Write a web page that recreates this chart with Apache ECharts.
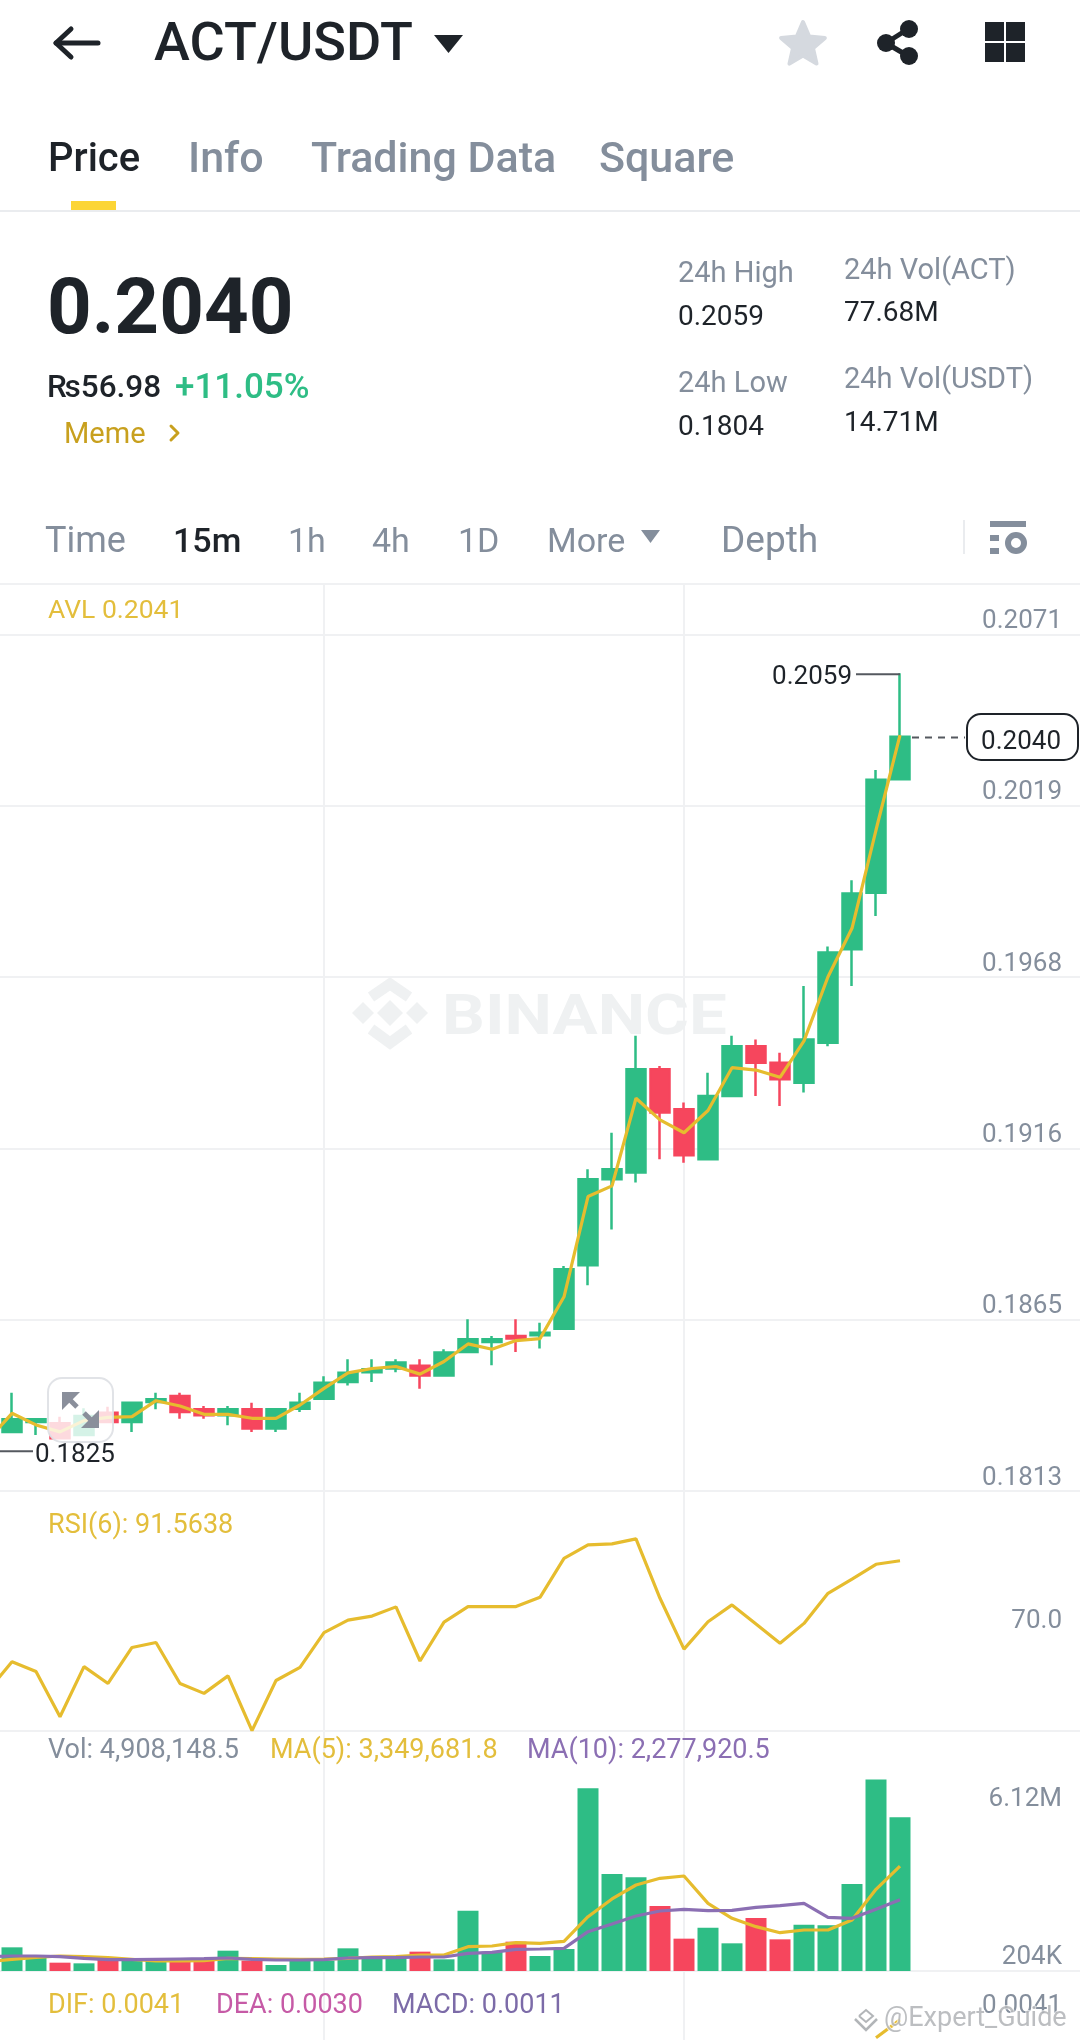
<!DOCTYPE html>
<html><head><meta charset="utf-8">
<style>html,body{margin:0;padding:0;background:#fff;overflow:hidden;width:1080px;height:2040px}#c{width:1104px;height:2040px;margin-left:-24px}</style>
<script src="https://cdn.jsdelivr.net/npm/echarts@6/dist/echarts.min.js"></script>
</head><body><div id="c"></div>
<script>
// ---------- data ----------
const categories = Array.from({length: 46}, (_, i) => i);
// [open, close, low, high]
const candles = [
[.18280,.18330,.18250,.18350],[.18308,.18346,.18308,.18426],[.18338,.18346,.18299,.18346],[.18334,.18289,.18289,.18354],
[.18299,.18356,.18299,.18379],[.18366,.18338,.18334,.18384],[.18338,.18396,.18308,.18396],[.18398,.18406,.18376,.18426],
[.18416,.18368,.18348,.18426],[.18376,.18358,.18348,.18386],[.18358,.18376,.18328,.18386],[.18376,.18318,.18308,.18396],
[.18318,.18376,.18308,.18376],[.18378,.18396,.18368,.18426],[.18408,.18456,.18408,.18476],[.18458,.18486,.18448,.18527],
[.18488,.18497,.18458,.18527],[.18499,.18517,.18488,.18527],[.18507,.18478,.18438,.18527],[.18478,.18547,.18478,.18557],
[.18549,.18587,.18549,.18647],[.18579,.18587,.18509,.18597],[.18597,.18589,.18549,.18647],[.18599,.18607,.18559,.18637],
[.18619,.18798,.18619,.18808],[.18810,.19069,.18750,.19099],[.19069,.19099,.18918,.19209],[.19089,.19400,.19059,.19501],
[.19400,.19270,.19129,.19410],[.19280,.19141,.19119,.19300],[.19129,.19320,.19129,.19390],[.19320,.19470,.19320,.19501],
[.19470,.19420,.19320,.19490],[.19420,.19370,.19290,.19450],[.19360,.19490,.19330,.19651],[.19480,.19752,.19470,.19770],
[.19762,.19930,.19651,.19970],[.19932,.20272,.19862,.20302],[.20274,.20402,.20274,.20593]];
const avlLine = [.18284,.18364,.18329,.18308,.18342,.18352,.18354,.18402,.18386,.18361,.18361,.18349,.18349,.18389,.18439,.18486,.18499,.18505,.18482,.18520,.18573,.18557,.18583,.18589,.18715,.19017,.19049,.19313,.19248,.19209,.19276,.19405,.19398,.19376,.19486,.19679,.19825,.20121,.20407];
const rsiValues = [52.2,61.0,58.0,44.3,59.5,54.4,65.3,66.8,54.4,51.4,56.7,40.1,55.3,59.3,69.8,73.6,74.8,77.6,61.2,73.0,77.7,77.7,77.7,80.5,92.3,96.4,96.7,98.2,80.2,64.8,73.1,78.2,72.4,66.6,72.6,81.7,86.0,90.5,91.56];
const volumes = [564000,756000,458000,266000,245000,351000,351000,330000,330000,330000,649000,330000,192000,330000,330000,724000,458000,426000,618000,373000,1927000,618000,937000,479000,703000,5835000,3098000,2992000,2076000,1033000,1384000,884000,1693000,1011000,1480000,1459000,2779000,6120000,4908148];
const volMa5 = [298000,373000,437000,479000,458000,426000,373000,319000,319000,330000,405000,394000,383000,373000,383000,405000,447000,458000,511000,511000,777000,799000,905000,884000,948000,1735000,2300000,2747000,2960000,3034000,2161000,1682000,1416000,1224000,1310000,1310000,1629000,2609000,3349682];
const volMa10 = [458000,479000,479000,458000,405000,362000,362000,373000,383000,394000,415000,373000,351000,351000,362000,415000,426000,426000,447000,447000,564000,596000,692000,703000,724000,1256000,1501000,1757000,1916000,1970000,1927000,1938000,2034000,2087000,2161000,1714000,1682000,1970000,2277921];
const difPoints = [[37,.0036],[38,.0041]];
const priceTicks = [.1813,.18646,.19162,.19678,.20194,.2071];
const rsiTicks = [70];
const volTicks = [204000,6120000];
const volTickLabels = ['{low|204K}','{high|6.12M}'];
const macdTicks = [.0041];
const verticalGridAt = [14,29];
const highPrice = .2059, lowPrice = .1825, lastPrice = .2040;

// ---------- style ----------
const DARK='#1E2329', GREY='#848E9C', GREEN='#2EBD85', RED='#F6465D', GOLD='#E3BE3C', LINEGOLD='#E6BC2E', PURPLE='#8B6FB3', GRID='#F0F1F3', MEME='#C8A01E';
const FONT='Roboto, "DejaVu Sans", sans-serif';
const panes=[{top:584,bottom:1491},{top:1491,bottom:1731},{top:1731,bottom:1971},{top:1971,bottom:2040}];

const vLines={silent:true,symbol:'none',z:1,animation:false,label:{show:false},lineStyle:{color:GRID,width:2,type:'solid'},data:verticalGridAt.map(i=>({xAxis:i}))};
const axisText={inside:true,margin:18,color:GREY,fontFamily:FONT,fontSize:26,verticalAlign:'bottom',lineHeight:24,padding:[0,0,1,0]};
const richText=lh=>({color:GREY,fontFamily:FONT,fontSize:26,lineHeight:lh});

const chart=echarts.init(document.getElementById('c'),null,{renderer:'canvas'});
chart.setOption({
  animation:false,backgroundColor:'#fff',
  grid:panes.map(p=>({left:0,right:0,top:p.top,height:p.bottom-p.top,containLabel:false})),
  xAxis:panes.map((p,i)=>({type:'category',gridIndex:i,data:categories,boundaryGap:true,
    axisTick:{show:false},axisLabel:{show:false},splitLine:{show:false},
    axisLine:{show:i<3,lineStyle:{color:GRID,width:2}}})),
  yAxis:[
    {gridIndex:0,position:'right',min:.1813,max:.20862,
     axisLine:{show:false},axisTick:{show:false,customValues:priceTicks},
     splitLine:{show:true,lineStyle:{color:GRID,width:2}},
     axisLabel:{...axisText,customValues:priceTicks,formatter:v=>v.toFixed(4)}},
    {gridIndex:1,position:'right',min:40,max:112.7,
     axisLine:{show:false},axisTick:{show:false,customValues:rsiTicks},splitLine:{show:false},
     axisLabel:{...axisText,lineHeight:18,customValues:rsiTicks,formatter:v=>v.toFixed(1)}},
    {gridIndex:2,position:'right',min:0,max:7665840,
     axisLine:{show:false},axisTick:{show:false,customValues:volTicks},splitLine:{show:false},
     axisLabel:{...axisText,padding:0,customValues:volTicks,verticalAlignMaxLabel:'top',
       rich:{low:richText(14),high:richText(40)},
       formatter:v=>volTickLabels[volTicks.indexOf(v)]}},
    {gridIndex:3,position:'right',min:.00354,max:.00546,
     axisLine:{show:false},axisTick:{show:false,customValues:macdTicks},splitLine:{show:false},
     axisLabel:{...axisText,customValues:macdTicks,formatter:v=>v.toFixed(4)}}
  ],
  series:[
    {type:'candlestick',xAxisIndex:0,yAxisIndex:0,data:candles,barWidth:19,z:3,
     itemStyle:{color:GREEN,color0:RED,borderColor:GREEN,borderColor0:RED,borderWidth:2.5},markLine:vLines},
    {type:'line',xAxisIndex:0,yAxisIndex:0,data:avlLine,showSymbol:false,z:4,lineStyle:{color:LINEGOLD,width:3.2}},
    {type:'line',xAxisIndex:1,yAxisIndex:1,data:rsiValues,showSymbol:false,z:4,lineStyle:{color:LINEGOLD,width:3.2},markLine:vLines},
    {type:'bar',xAxisIndex:2,yAxisIndex:2,barWidth:21,z:3,markLine:vLines,
     data:volumes.map((v,i)=>({value:v,itemStyle:{color:candles[i][1]>=candles[i][0]?GREEN:RED}}))},
    {type:'line',xAxisIndex:2,yAxisIndex:2,data:volMa5,showSymbol:false,z:4,lineStyle:{color:LINEGOLD,width:3.2}},
    {type:'line',xAxisIndex:2,yAxisIndex:2,data:volMa10,showSymbol:false,z:5,lineStyle:{color:PURPLE,width:3.2}},
    {type:'line',xAxisIndex:3,yAxisIndex:3,data:difPoints,showSymbol:false,z:4,lineStyle:{color:LINEGOLD,width:3.2},markLine:vLines}
  ]
});

// ---------- app chrome and annotations ----------
const G=[];
const T=(text,x,y,size,fill,weight,align)=>G.push({type:'text',z:50,silent:true,style:{text,x,y:y+3,fill,font:`${weight||400} ${size}px ${FONT}`,align:align||'left',verticalAlign:'middle'}});
const L=(x1,y1,x2,y2,stroke,w,extra)=>G.push({type:'line',z:50,silent:true,shape:{x1,y1,x2,y2},style:Object.assign({stroke,lineWidth:w},extra||{})});
const PL=(points,stroke,w,z)=>G.push({type:'polyline',z:z||50,silent:true,shape:{points},style:{stroke,lineWidth:w,fill:'none',lineCap:'round',lineJoin:'round'}});
const PG=(points,fill,z)=>G.push({type:'polygon',z:z||50,silent:true,shape:{points},style:{fill}});
const R=(x,y,width,height,fill,r,stroke,lw,z)=>G.push({type:'rect',z:z||50,silent:true,shape:{x,y,width,height,r:r||0},style:{fill,stroke:stroke||null,lineWidth:lw||0}});
const C=(cx,cy,r,fill,stroke,lw)=>G.push({type:'circle',z:50,silent:true,shape:{cx,cy,r},style:{fill,stroke:stroke||null,lineWidth:lw||0}});

// header
PL([[71,29],[56,43],[71,57]],DARK,5); L(56,43,98,43,DARK,5,{lineCap:'round'});
T('ACT/USDT',154,43,54,DARK,500);
PG([[434,35],[463,35],[448.5,53]],DARK);
const star=[];for(let i=0;i<10;i++){const a=-Math.PI/2+i*Math.PI/5,r=i%2?10.5:23;star.push([803+r*Math.cos(a),45+r*Math.sin(a)]);}
G.push({type:'polygon',z:50,silent:true,shape:{points:star},style:{fill:'#D5D9DF',stroke:'#D5D9DF',lineWidth:4,lineJoin:'round'}});
L(908,29,886,43,DARK,5);L(886,43,908,56,DARK,5);C(909,29,9,DARK);C(886,43,9,DARK);C(909,56,9,DARK);
[[985,22],[1006,22],[985,43],[1006,43]].forEach(p=>R(p[0],p[1],19,19,DARK));
// tabs
T('Price',48,158,40,DARK,500);T('Info',188,158,43,GREY,500);T('Trading Data',311,158,43,GREY,500);T('Square',599,158,43,GREY,500);
R(71,201,45,9,'#FCD535');L(0,211,1080,211,'#EAECEF',2);
// price block
T('0.2040',47,310,78,DARK,700);
T('₨56.98',47,386,31.5,DARK,500);T('+11.05%',175,386,35,GREEN,500);
T('Meme',64,433,29,MEME);PL([[171,426],[178,433],[171,440]],MEME,3);
T('24h High',678,272,29,GREY);T('0.2059',678,315,28,DARK);
T('24h Low',678,382,29,GREY);T('0.1804',678,425,28,DARK);
T('24h Vol(ACT)',844,269,29,GREY);T('77.68M',844,311,28,DARK);
T('24h Vol(USDT)',844,378,29,GREY);T('14.71M',844,421,28,DARK);
// interval row
T('Time',45,540,36,GREY);T('15m',173,540,34,DARK,500);T('1h',288,540,34,GREY);T('4h',372,540,34,GREY);T('1D',458,540,34,GREY);T('More',547,540,34,GREY);
PG([[641,530],[660,530],[650.5,543]],GREY);T('Depth',721,540,37,GREY);
L(964,520,964,554,'#EAECEF',2);
R(990,521,36,6,GREY);R(990,535,9,6,GREY);R(990,548,9,6,GREY);C(1016,543,8,'#fff',GREY,6);
L(0,584,1080,584,GRID,2);
// indicator legends
T('AVL 0.2041',48,608,26.5,GOLD);
T('RSI(6): 91.5638',48,1523,27,GOLD);
T('Vol: 4,908,148.5',48,1748,27,GREY);T('MA(5): 3,349,681.8',270,1748,27,GOLD);T('MA(10): 2,277,920.5',527,1748,27,PURPLE);
T('DIF: 0.0041',48,2003,27,GOLD);T('DEA: 0.0030',216,2003,27,'#C65AA6');T('MACD: 0.0011',392,2003,27,'#7C6BA8');
// BINANCE watermark
const WM='#EFF1F2';
PG([[390,1000],[403,1013],[390,1026],[377,1013]],WM,1);PG([[363,1002],[374,1013],[363,1024],[352,1013]],WM,1);PG([[417,1002],[428,1013],[417,1024],[406,1013]],WM,1);
G.push({type:'polyline',z:1,silent:true,shape:{points:[[371,997],[390,984],[409,997]]},style:{stroke:WM,lineWidth:11,fill:'none'}});
G.push({type:'polyline',z:1,silent:true,shape:{points:[[371,1029],[390,1043],[409,1029]]},style:{stroke:WM,lineWidth:11,fill:'none'}});
G.push({type:'text',z:1,silent:true,x:442,y:1020,scaleX:1.2,style:{text:'BINANCE',x:0,y:0,fill:WM,font:`700 56px ${FONT}`,align:'left',verticalAlign:'middle'}});
// scale-out button
R(48,1378,65,64,'rgba(255,255,255,0.8)',14,'rgba(222,224,228,0.9)',2,60);
PG([[62,1392],[80,1392],[62,1410]],'#8A8F9B',61);PG([[99,1428],[81,1428],[99,1410]],'#8A8F9B',61);
G.push({type:'line',z:61,silent:true,shape:{x1:68,y1:1398,x2:77,y2:1407},style:{stroke:'#8A8F9B',lineWidth:5}});
G.push({type:'line',z:61,silent:true,shape:{x1:93,y1:1422,x2:84,y2:1413},style:{stroke:'#8A8F9B',lineWidth:5}});
// high / low / last annotations placed through the price scale
const py=v=>chart.convertToPixel({yAxisIndex:0},v);
L(856,py(highPrice),900,py(highPrice),'#55595F',2);
T(highPrice.toFixed(4),852,py(highPrice),26,DARK,400,'right');
L(0,py(lowPrice),33,py(lowPrice),'#55595F',2);
T(lowPrice.toFixed(4),35,py(lowPrice)+1,26,DARK);
L(912,py(lastPrice),965,py(lastPrice),'#55595F',2,{lineDash:[7,6]});
R(967,714,111,46,'#fff',14,DARK,2);
T(lastPrice.toFixed(4),1061,739,26,DARK,400,'right');
// author mark
G.push({type:'polyline',z:70,silent:true,shape:{points:[[855,2019],[866,2030],[877,2019]]},style:{stroke:'rgba(165,168,172,0.85)',lineWidth:2.5,fill:'none'}});
G.push({type:'polyline',z:70,silent:true,shape:{points:[[859,2016],[866,2010],[873,2016],[866,2022],[859,2016]]},style:{stroke:'rgba(165,168,172,0.85)',lineWidth:2,fill:'none'}});
G.push({type:'text',z:70,silent:true,style:{text:'@Expert_Guide',x:884,y:2019,fill:'rgba(165,168,172,0.75)',stroke:'rgba(255,255,255,0.7)',lineWidth:2,font:`400 27px ${FONT}`,align:'left',verticalAlign:'middle'}});
chart.setOption({graphic:{elements:[{type:'group',x:24,y:0,children:G}]}});
</script></body></html>
